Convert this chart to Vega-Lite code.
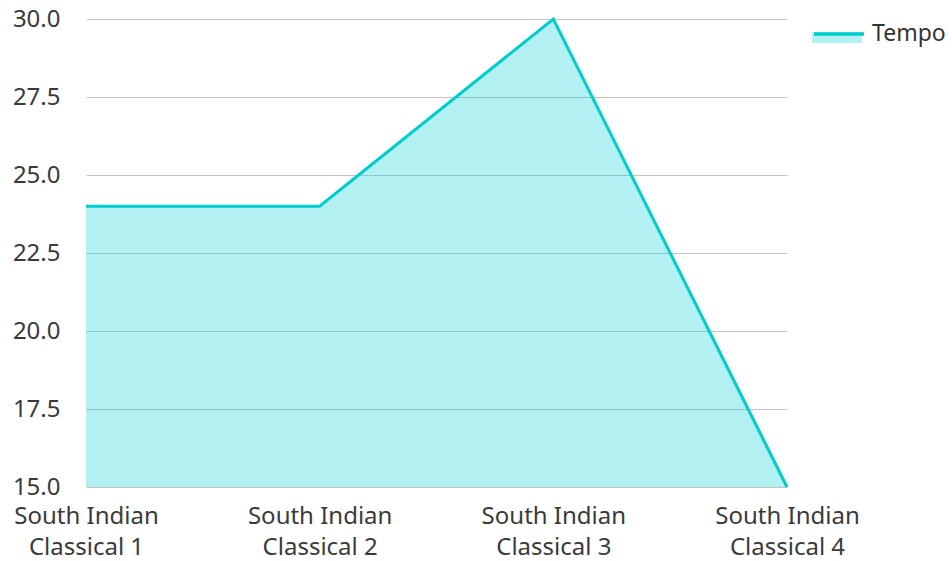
{
  "$schema": "https://vega.github.io/schema/vega-lite/v6.json",
  "width": 701,
  "height": 468,
  "autosize": {"type": "none"},
  "padding": {"left": 86, "top": 19, "right": 165, "bottom": 74},
  "background": "white",
  "config": {
    "view": {"stroke": null},
    "font": "Noto Sans",
    "axis": {"labelFont": "Noto Sans", "labelFontSize": 24, "labelColor": "#3a3a3a", "ticks": false, "domain": false, "title": null, "gridColor": "#c4c4c4", "gridWidth": 1.2, "zindex": 1}
  },
  "data": {"values": [
    {"piece": "South Indian Classical 1", "series": "Tempo", "tempo": 24},
    {"piece": "South Indian Classical 2", "series": "Tempo", "tempo": 24},
    {"piece": "South Indian Classical 3", "series": "Tempo", "tempo": 30},
    {"piece": "South Indian Classical 4", "series": "Tempo", "tempo": 15}
  ]},
  "encoding": {
    "x": {"field": "piece", "type": "ordinal", "sort": null,
      "scale": {"type": "point", "padding": 0},
      "axis": {"labelAngle": 0, "grid": false, "labelOverlap": false, "labelBound": false, "labelPadding": 17, "labelLineHeight": 31,
        "labelExpr": "[slice(datum.label,0,12), slice(datum.label,13)]"}},
    "y": {"field": "tempo", "type": "quantitative",
      "scale": {"domain": [15, 30], "nice": false, "zero": false},
      "axis": {"values": [15, 17.5, 20, 22.5, 25, 27.5, 30], "format": ".1f", "labelPadding": 26, "grid": true}}
  },
  "layer": [
    {
      "mark": {"type": "area", "fillOpacity": 0.3, "clip": true},
      "encoding": {
        "fill": {"field": "series", "type": "nominal",
          "scale": {"range": ["#00CED1"]},
          "legend": {"orient": "none", "legendX": 726, "legendY": -12, "title": null,
            "symbolType": "M-1,0H1V0.44H-1Z", "symbolSize": 2500, "symbolOpacity": 0.3, "symbolStrokeWidth": 0,
            "labelFontSize": 23, "labelExpr": "''", "labelOffset": 6}}
      }
    },
    {
      "mark": {"type": "line", "strokeWidth": 3},
      "encoding": {
        "stroke": {"field": "series", "type": "nominal",
          "scale": {"range": ["#00CCCC"]},
          "legend": {"orient": "none", "legendX": 726, "legendY": -12, "title": null,
            "symbolType": "M-1,0H1", "symbolSize": 2500, "symbolStrokeWidth": 3.5,
            "labelFontSize": 23, "labelColor": "#333333", "labelOffset": 6}}
      }
    }
  ]
}
